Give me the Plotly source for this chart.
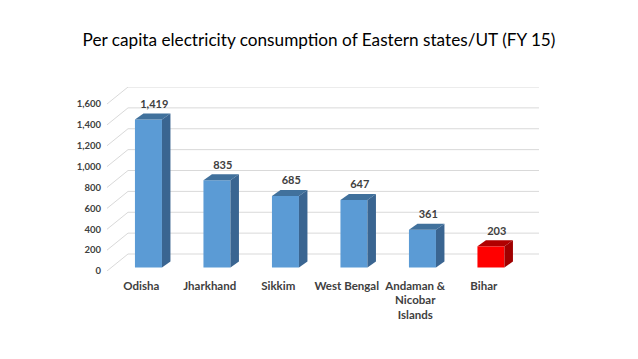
import plotly.graph_objects as go

categories = ["Odisha", "Jharkhand", "Sikkim", "West Bengal", "Andaman &<br>Nicobar<br>Islands", "Bihar"]
values = [1419, 835, 685, 647, 361, 203]
y_ticks = [0, 200, 400, 600, 800, 1000, 1200, 1400, 1600]

front_colors = ["#5B9BD5"] * 5 + ["#FF0000"]
top_colors = ["#41719C"] * 5 + ["#B00000"]
side_colors = ["#3A6591"] * 5 + ["#A00000"]

# geometry of the pseudo-3D view (in axis units)
PX_PER_CAT = 68.5
PX_PER_VAL = 0.104375
wall_dx = 21 / PX_PER_CAT
wall_dy = 17 / PX_PER_VAL
bar_w = 27 / PX_PER_CAT
front_dx = 7.2 / PX_PER_CAT
front_dy = 3.5 / PX_PER_VAL
depth_dx = 8.5 / PX_PER_CAT
depth_dy = 6 / PX_PER_VAL
label_dx = 13 / PX_PER_CAT
label_dy = 3 / PX_PER_VAL

xs = list(range(len(categories)))
fig = go.Figure()

# back wall + side wall gridlines
x_left, x_right = -0.5, len(categories) - 0.5
for t in y_ticks:
    fig.add_trace(go.Scatter(
        x=[x_left, x_left + wall_dx, x_right + wall_dx],
        y=[t, t + wall_dy, t + wall_dy],
        mode="lines", line=dict(color="#D9D9D9", width=1),
        hoverinfo="skip", showlegend=False))

# bars
for i, v in enumerate(values):
    left = i + front_dx - bar_w / 2
    right = left + bar_w
    bot = front_dy
    top = v + front_dy
    # front face
    fig.add_trace(go.Scatter(
        x=[left, right, right, left, left], y=[bot, bot, top, top, bot],
        mode="lines", fill="toself", fillcolor=front_colors[i],
        line=dict(width=0, color=front_colors[i]), hoverinfo="skip", showlegend=False))
    # top face
    fig.add_trace(go.Scatter(
        x=[left, right, right + depth_dx, left + depth_dx, left],
        y=[top, top, top + depth_dy, top + depth_dy, top],
        mode="lines", fill="toself", fillcolor=top_colors[i],
        line=dict(width=0, color=top_colors[i]), hoverinfo="skip", showlegend=False))
    # side face
    fig.add_trace(go.Scatter(
        x=[right, right + depth_dx, right + depth_dx, right, right],
        y=[bot, bot + depth_dy, top + depth_dy, top, bot],
        mode="lines", fill="toself", fillcolor=side_colors[i],
        line=dict(width=0, color=side_colors[i]), hoverinfo="skip", showlegend=False))

# data labels
fig.add_trace(go.Scatter(
    x=[i + label_dx for i in xs], y=[v + front_dy + depth_dy + label_dy for v in values],
    mode="text", text=[f"{v:,}" for v in values], textposition="top center",
    textfont=dict(family="Lato", size=11, color="#404040", weight="bold"),
    hoverinfo="skip", showlegend=False, cliponaxis=False))

fig.update_layout(
    width=638, height=359,
    margin=dict(l=107, r=99, t=87, b=88, autoexpand=False),
    paper_bgcolor="white", plot_bgcolor="white",
    title=dict(text="Per capita electricity consumption of Eastern states/UT (FY 15)",
               x=0.5, xanchor="center", y=0.888, yanchor="middle",
               font=dict(family="Lato", size=17.2, color="#000000")),
    xaxis=dict(range=[x_left, x_right + wall_dx], tickvals=xs, ticktext=categories,
               showgrid=False, zeroline=False, showline=False, ticks="",
               ticklabelstandoff=6,
               tickfont=dict(family="Lato", size=11.5, color="#404040", weight="bold")),
    yaxis=dict(range=[0, 1600 + wall_dy], tickvals=y_ticks, tickformat=",",
               showgrid=False, zeroline=False, showline=False, ticks="",
               ticklabelstandoff=5,
               tickfont=dict(family="Lato", size=9.5, color="#404040", weight="bold")),
)

fig.write_html("out.html", config={"displayModeBar": False},
               post_script="document.body.style.margin='0';document.body.style.overflow='hidden';")
